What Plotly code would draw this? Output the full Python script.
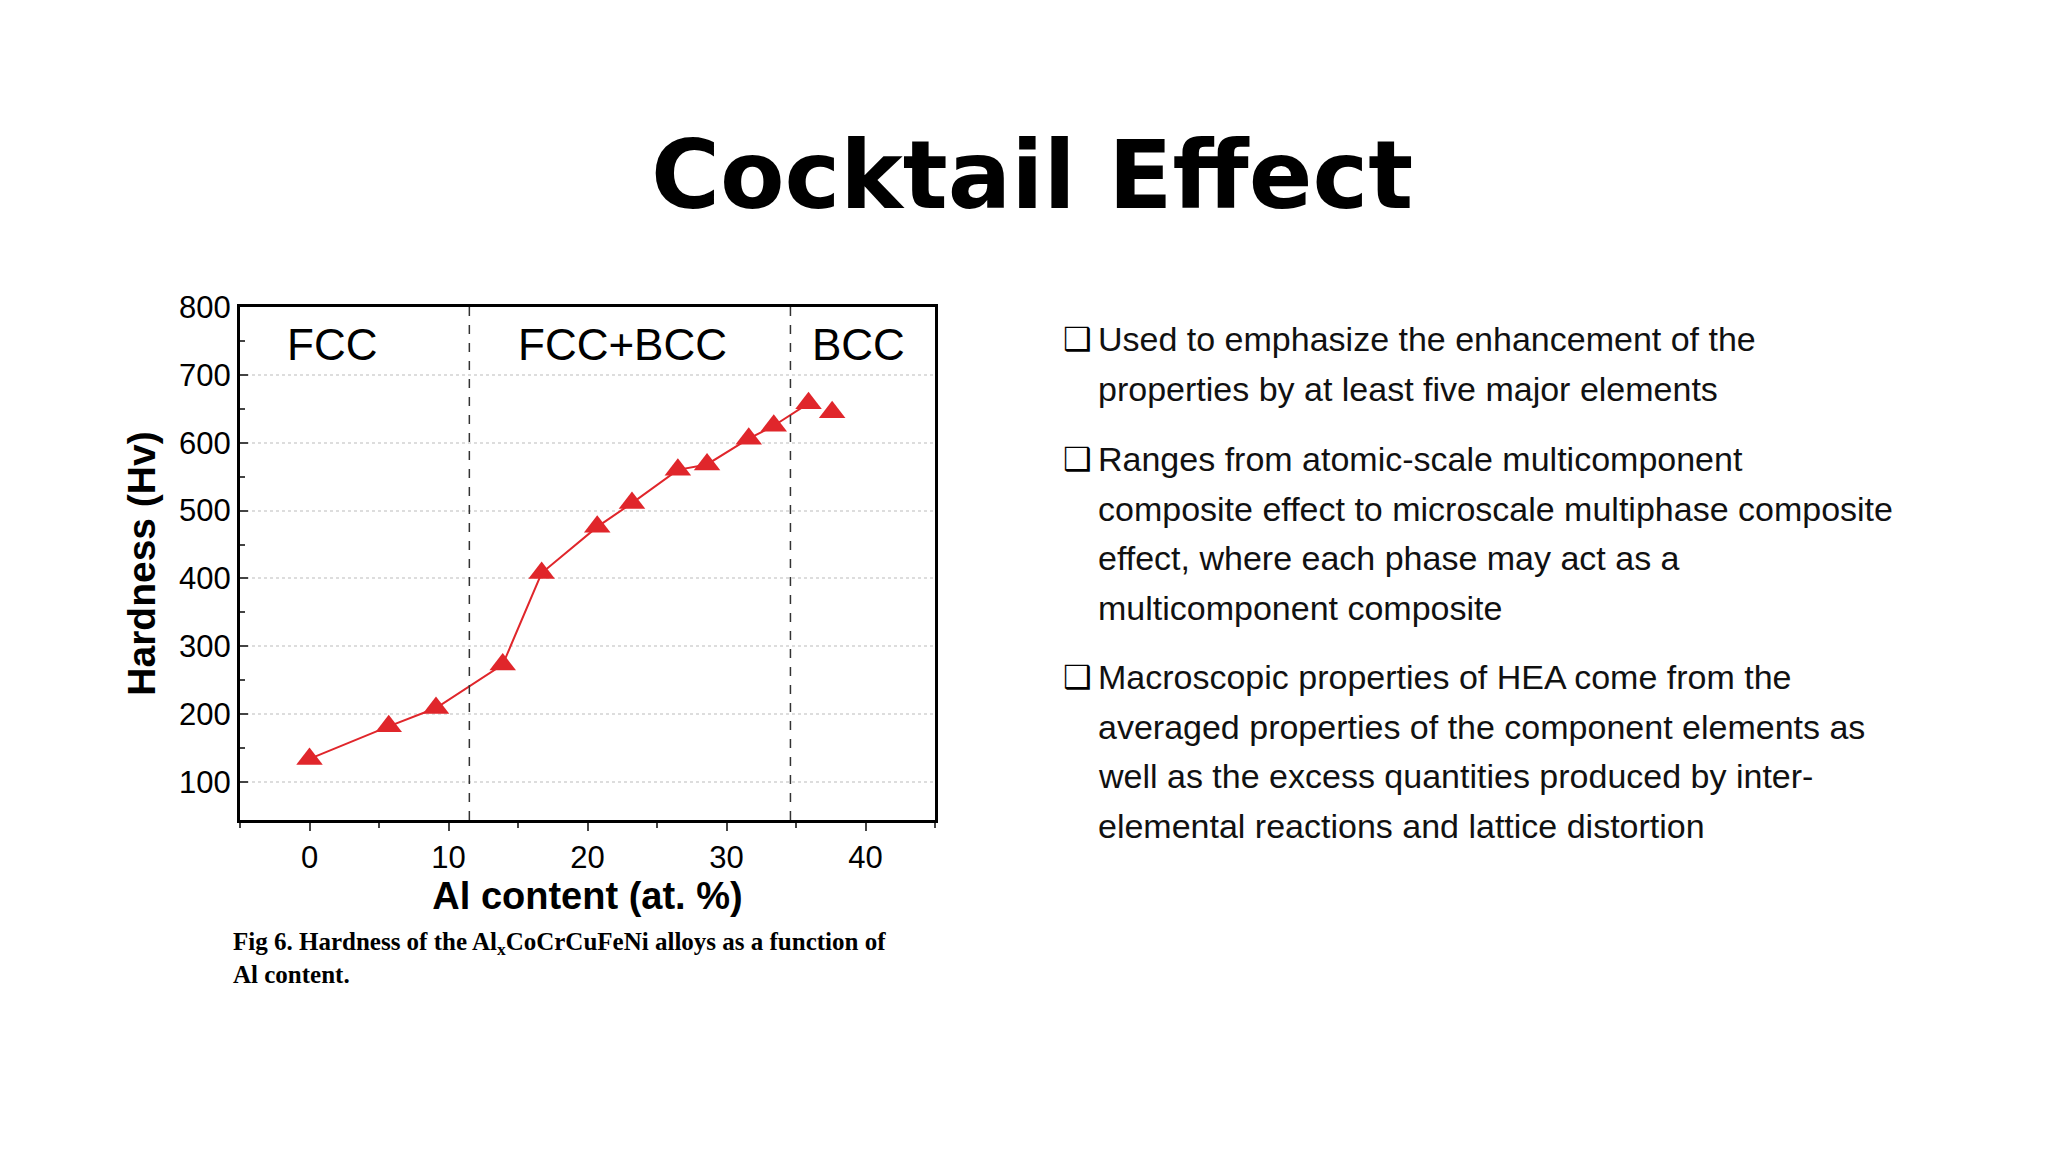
import plotly.graph_objects as go

al = [0, 5.7, 9.1, 13.9, 16.7, 20.7, 23.2, 26.5, 28.6, 31.6, 33.4, 35.9, 37.6]
hv = [134, 182, 209, 273, 408, 476, 511, 560, 568, 606, 625, 658, 645]
phase_bounds = [11.5, 34.6]
phase_labels = ["FCC", "FCC+BCC", "BCC"]
phase_pos = [1.6, 22.5, 39.5]
bullets = [
    ["Used to emphasize the enhancement of the", "properties by at least five major elements"],
    ["Ranges from atomic-scale multicomponent", "composite effect to microscale multiphase composite",
     "effect, where each phase may act as a", "multicomponent composite"],
    ["Macroscopic properties of HEA come from the", "averaged properties of the component elements as",
     "well as the excess quantities produced by inter-", "elemental reactions and lattice distortion"],
]

W, H = 2048, 1152
L, R, T, B = 232, 927, 299, 812
def px(x): return (x - L) / (R - L)
def py(y): return (B - y) / (B - T)

fig = go.Figure()
fig.add_trace(go.Scatter(x=al[:12], y=hv[:12], mode="lines", line=dict(color="#e0262b", width=2), showlegend=False))
fig.add_trace(go.Scatter(x=al, y=hv, mode="markers", marker=dict(symbol="triangle-up", size=23, color="#e0262b"), showlegend=False))
for b in phase_bounds:
    fig.add_shape(type="line", x0=b, x1=b, y0=44, y1=800, line=dict(color="#333", width=1.5, dash="dash"))
for lab, xp in zip(phase_labels, phase_pos):
    fig.add_annotation(x=xp, y=745, text=lab, showarrow=False, font=dict(size=44, color="black", family="Liberation Sans"))

fig.add_annotation(x=px(1024), y=py(167), xref="paper", yref="paper", text="<b>Cocktail Effect</b>", showarrow=False,
                   font=dict(size=94, family="DejaVu Sans", color="black"), xanchor="center", yanchor="middle")
fig.add_annotation(x=px(223), y=py(918), xref="paper", yref="paper", xanchor="left", yanchor="top", align="left",
                   showarrow=False, text="<b>Fig 6. Hardness of the Al<sub>x</sub>CoCrCuFeNi alloys as a function of<br>Al content.</b>",
                   font=dict(size=25, family="Liberation Serif", color="black"))
ystart = [340, 460, 678]
for ys, lines in zip(ystart, bullets):
    fig.add_annotation(x=px(1053), y=py(ys - 9), xref="paper", yref="paper", xanchor="left", yanchor="middle",
                       showarrow=False, text="❑", font=dict(size=32, family="DejaVu Sans", color="black"))
    for i, t in enumerate(lines):
        fig.add_annotation(x=px(1088), y=py(ys - 9 + i * 49.5), xref="paper", yref="paper", xanchor="left", yanchor="middle",
                           showarrow=False, text=t, font=dict(size=34, family="Liberation Sans", color="#111"))

fig.update_layout(
    width=W, height=H, margin=dict(l=L, r=W - R, t=T, b=H - B),
    paper_bgcolor="white", plot_bgcolor="white",
    xaxis=dict(range=[-5, 45], tickvals=[0, 10, 20, 30, 40], ticks="outside", ticklen=8, tickwidth=2,
               minor=dict(tickvals=[-5, 5, 15, 25, 35, 45], ticks="outside", ticklen=5, tickwidth=2),
               showline=True, linewidth=3, linecolor="black", mirror=True, showgrid=False, zeroline=False,
               tickfont=dict(size=31, family="Liberation Sans", color="black"),
               title=dict(text="<b>Al content (at. %)</b>", font=dict(size=38, family="Liberation Sans", color="black"), standoff=6)),
    yaxis=dict(range=[44, 800], tickvals=[100, 200, 300, 400, 500, 600, 700, 800], ticks="inside", ticklen=8, tickwidth=2,
               minor=dict(tickvals=[150, 250, 350, 450, 550, 650, 750], ticks="inside", ticklen=5, tickwidth=2),
               showline=True, linewidth=3, linecolor="black", mirror=True, showgrid=True, gridcolor="#dddddd",
               griddash="dot", gridwidth=1.5, zeroline=False,
               tickfont=dict(size=31, family="Liberation Sans", color="black"),
               title=dict(text="<b>Hardness (Hv)</b>", font=dict(size=39, family="Liberation Sans", color="black"), standoff=12)),
)
fig.write_html("out.html")
